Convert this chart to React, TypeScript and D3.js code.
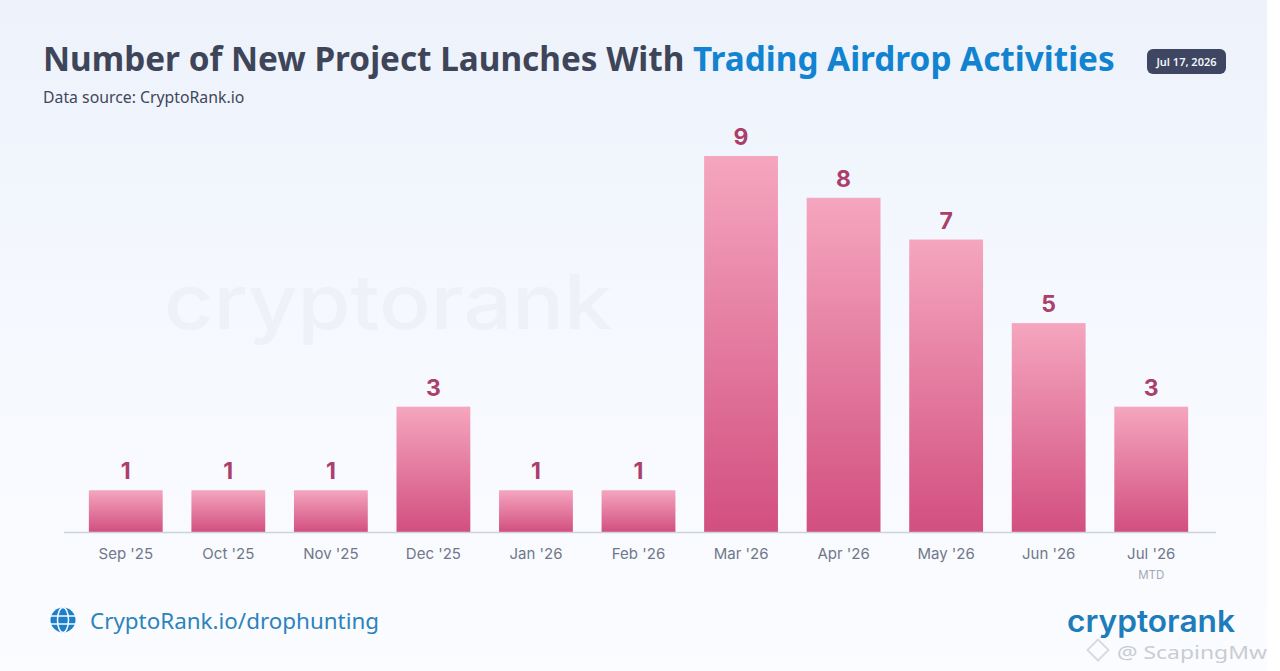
import React, { useEffect, useRef } from 'react';
import * as d3 from 'd3';

const MONTHS = ["Sep '25", "Oct '25", "Nov '25", "Dec '25", "Jan '26", "Feb '26", "Mar '26", "Apr '26", "May '26", "Jun '26", "Jul '26"];
const LAUNCHES = [1, 1, 1, 3, 1, 1, 9, 8, 7, 5, 3];
const TITLE_DARK = 'Number of New Project Launches With ';
const TITLE_BLUE = 'Trading Airdrop Activities';
const SUBTITLE = 'Data source: CryptoRank.io';
const DATE_LABEL = 'Jul 17, 2026';
const LINK_LABEL = 'CryptoRank.io/drophunting';
const BRAND = 'cryptorank';

export default function App() {
    const svgRef = useRef<SVGSVGElement>(null);

    useEffect(() => {
        if (!svgRef.current) return;
        const width = 1280;
        const height = 671;
        const svg = d3.select(svgRef.current);
        svg.selectAll('*').remove();
        svg.attr('viewBox', `0 0 ${width} ${height}`);

        const defs = svg.append('defs');
        const bg = defs.append('linearGradient').attr('id', 'bg').attr('x1', 0).attr('x2', 0).attr('y1', 0).attr('y2', 1);
        bg.append('stop').attr('offset', '0%').attr('stop-color', '#edf2fb');
        bg.append('stop').attr('offset', '45%').attr('stop-color', '#f5f8fe');
        bg.append('stop').attr('offset', '100%').attr('stop-color', '#fbfcff');

        const barFill = defs.append('linearGradient').attr('id', 'bar').attr('x1', 0).attr('x2', 0).attr('y1', 0).attr('y2', 1);
        barFill.append('stop').attr('offset', '0%').attr('stop-color', '#f5a6bf');
        barFill.append('stop').attr('offset', '100%').attr('stop-color', '#d24f7f');

        svg.append('rect').attr('width', width).attr('height', height).attr('fill', '#ffffff');
        svg.append('rect').attr('width', 1267).attr('height', height).attr('fill', 'url(#bg)');

        // Watermark behind the bars
        svg.append('text')
            .attr('x', 164).attr('y', 329)
            .attr('textLength', 448).attr('lengthAdjust', 'spacingAndGlyphs')
            .style('font-family', 'Inter, sans-serif')
            .style('font-size', '76px')
            .style('font-weight', 500)
            .attr('fill', '#eef1f6')
            .text(BRAND);

        // Header
        const title = svg.append('text')
            .attr('x', 43).attr('y', 71)
            .style('font-family', '"Noto Sans", sans-serif')
            .style('font-size', '33.3px')
            .style('font-weight', 700);
        title.append('tspan').attr('fill', '#3e4559').attr('xml:space', 'preserve').text(TITLE_DARK);
        title.append('tspan').attr('fill', '#1183d0').text(TITLE_BLUE);

        svg.append('text')
            .attr('x', 43).attr('y', 103)
            .style('font-family', '"Noto Sans", sans-serif')
            .style('font-size', '15.8px')
            .attr('fill', '#40475a')
            .text(SUBTITLE);

        svg.append('rect')
            .attr('x', 1147).attr('y', 49).attr('width', 79).attr('height', 25).attr('rx', 6)
            .attr('fill', '#3f4662');
        svg.append('text')
            .attr('x', 1186.5).attr('y', 65.5)
            .attr('text-anchor', 'middle')
            .style('font-family', '"Noto Sans", sans-serif')
            .style('font-size', '11px')
            .style('font-weight', 600)
            .attr('fill', '#f4f6fb')
            .text(DATE_LABEL);

        // Scales
        const x = d3.scaleBand<string>().domain(MONTHS).range([74.5, 1202.5]).paddingInner(0.28).paddingOuter(0.14);
        const y = d3.scaleLinear().domain([0, 9]).range([532, 156]);

        // Bars
        svg.append('g').selectAll('rect')
            .data(LAUNCHES)
            .join('rect')
            .attr('x', (_, i) => x(MONTHS[i])!)
            .attr('y', d => y(d))
            .attr('width', x.bandwidth())
            .attr('height', d => y(0) - y(d))
            .attr('fill', 'url(#bar)');

        // Value labels
        svg.append('g').selectAll('text')
            .data(LAUNCHES)
            .join('text')
            .attr('x', (_, i) => x(MONTHS[i])! + x.bandwidth() / 2)
            .attr('y', d => y(d) - 11)
            .attr('text-anchor', 'middle')
            .style('font-family', 'Inter, sans-serif')
            .style('font-size', '23px')
            .style('font-weight', 700)
            .attr('fill', '#ab3f6c')
            .text(d => d);

        // Baseline and month labels
        const axis = d3.axisBottom(x).tickSize(0).tickPadding(16);
        const axisG = svg.append('g').attr('transform', `translate(0,${y(0)})`).call(axis);
        axisG.select('.domain').attr('d', 'M64,0.5H1216').attr('stroke', '#cdd3de').attr('stroke-width', 1.5);
        axisG.selectAll('text')
            .style('font-family', 'Inter, sans-serif')
            .style('font-size', '15px')
            .attr('fill', '#71778a');

        svg.append('text')
            .attr('x', x("Jul '26")! + x.bandwidth() / 2).attr('y', 579)
            .attr('text-anchor', 'middle')
            .style('font-family', 'Inter, sans-serif')
            .style('font-size', '11.5px')
            .attr('fill', '#a3a9b6')
            .text('MTD');

        // Footer link with globe icon
        const globe = svg.append('g')
            .attr('transform', 'translate(63,620)')
            .attr('fill', 'none');
        globe.append('circle').attr('r', 12.5).attr('fill', '#1b7fc9');
        globe.append('ellipse').attr('rx', 5.5).attr('ry', 12.5).attr('stroke', '#f7fafe').attr('stroke-width', 1.5);
        globe.append('path').attr('d', 'M-13,-4H13M-13,4H13').attr('stroke', '#f7fafe').attr('stroke-width', 1.5);

        svg.append('text')
            .attr('x', 90).attr('y', 629)
            .style('font-family', '"Noto Sans", sans-serif')
            .style('font-size', '22.4px')
            .attr('fill', '#2c83bd')
            .text(LINK_LABEL);

        // Brand logo
        svg.append('text')
            .attr('x', 1067).attr('y', 632)
            .attr('textLength', 168).attr('lengthAdjust', 'spacingAndGlyphs')
            .style('font-family', 'Inter, sans-serif')
            .style('font-size', '30px')
            .style('font-weight', 600)
            .attr('fill', '#1f7cba')
            .text(BRAND);

        // Repost watermark over the corner
        svg.append('path')
            .attr('d', d3.symbol(d3.symbolSquare, 220)()!)
            .attr('transform', 'translate(1098,650) rotate(45)')
            .attr('fill', 'none')
            .attr('stroke', '#d8dbe0')
            .attr('stroke-width', 2);
        svg.append('text')
            .attr('x', 1117).attr('y', 659)
            .attr('textLength', 150).attr('lengthAdjust', 'spacingAndGlyphs')
            .style('font-family', '"Noto Sans", sans-serif')
            .style('font-size', '18px')
            .attr('fill', '#c9ccd2')
            .text('@ ScapingMw');
    }, []);

    return (
        <div style={{ position: 'absolute', left: 0, top: 0 }}>
            <svg ref={svgRef} width={1280} height={671} style={{ display: 'block' }} />
        </div>
    );
}
